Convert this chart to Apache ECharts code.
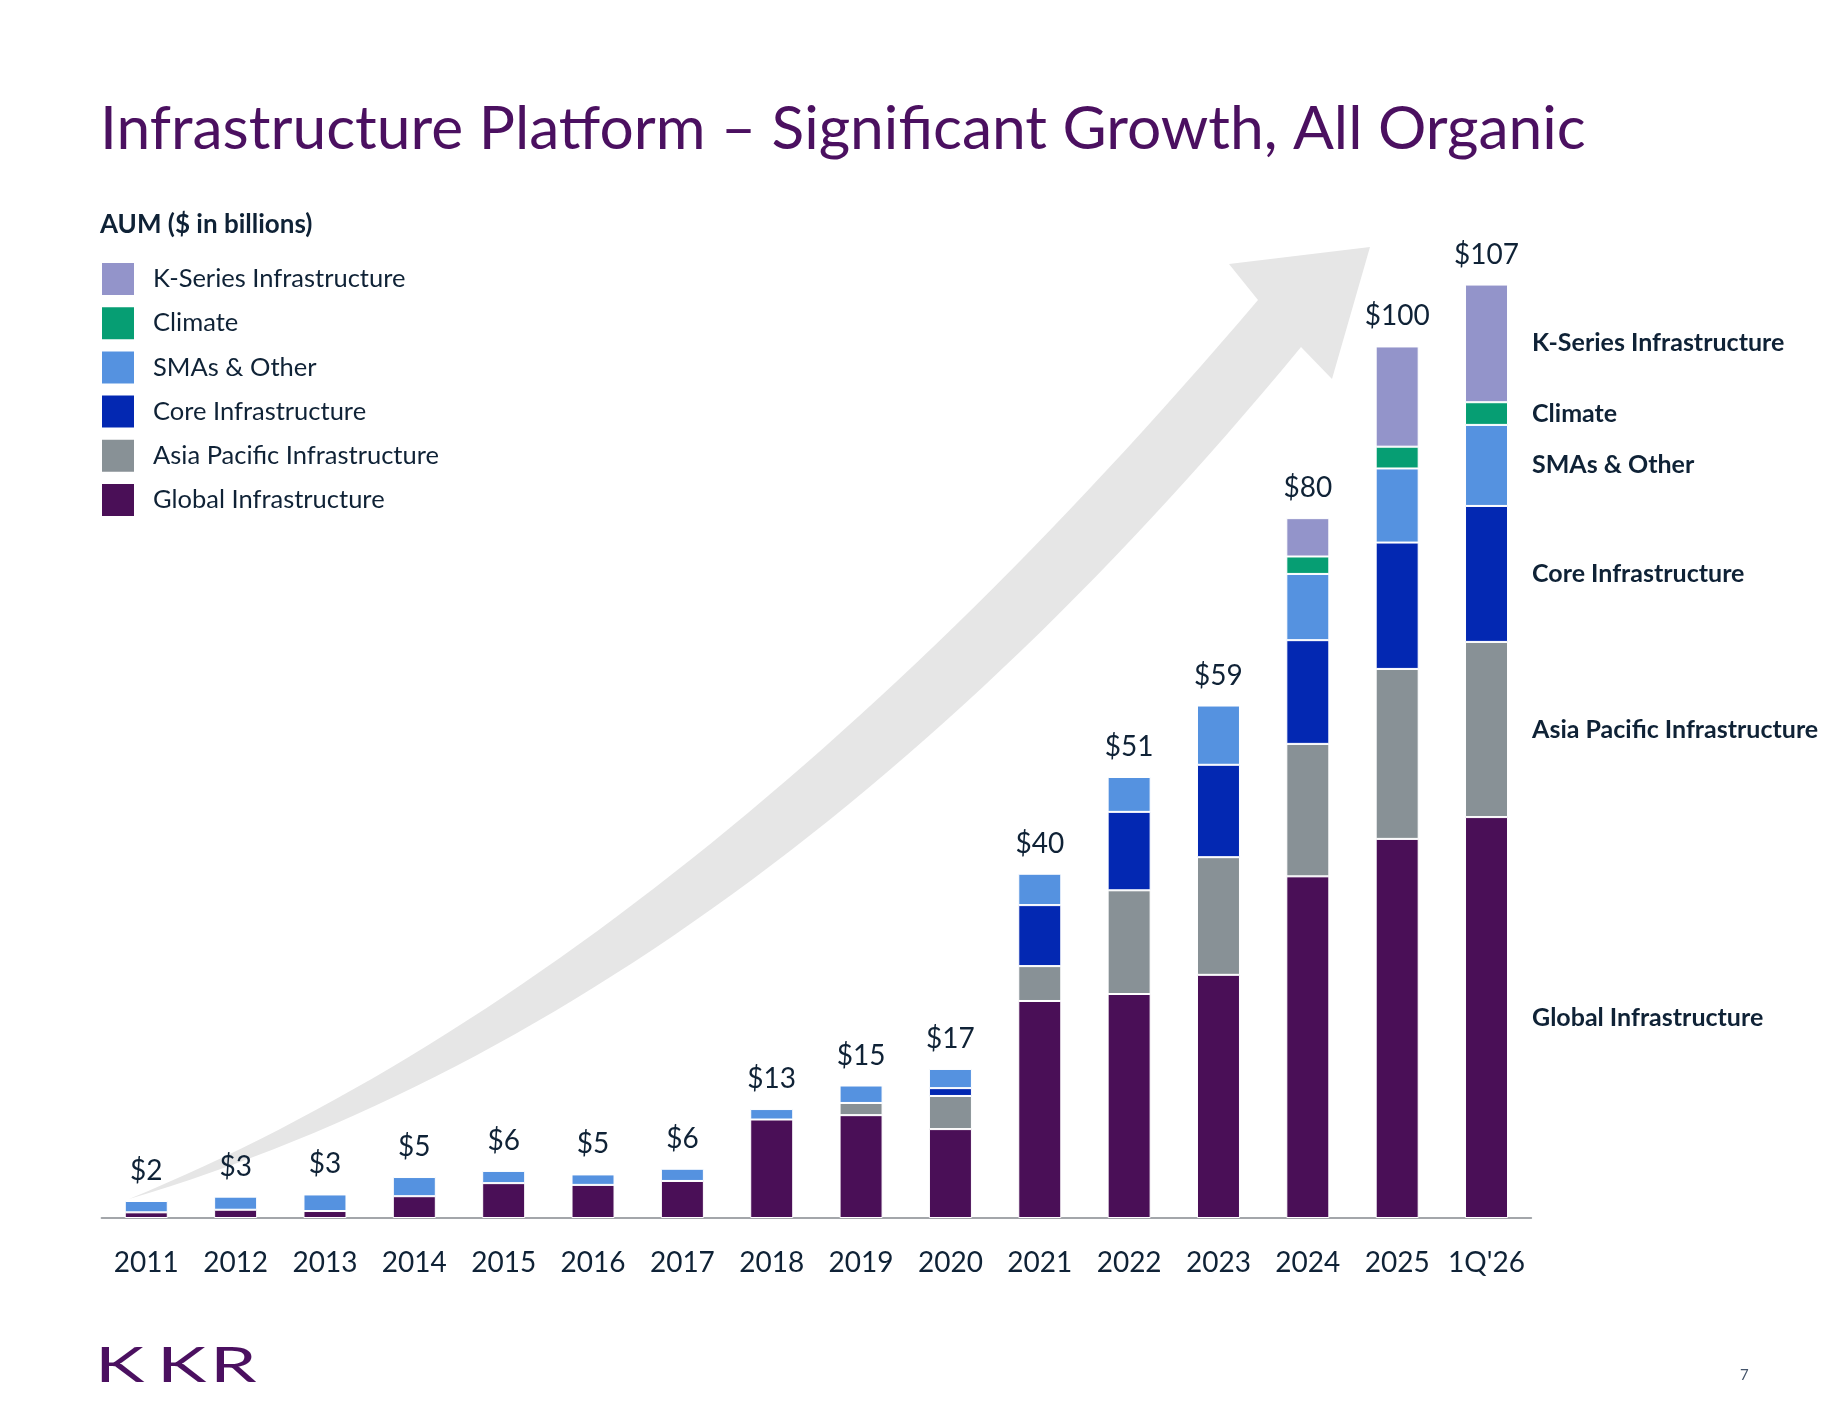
<!DOCTYPE html>
<html>
<head>
<meta charset="utf-8">
<title>Infrastructure Platform</title>
<script src="https://cdn.jsdelivr.net/npm/echarts@6/dist/echarts.min.js"></script>
<style>
  html, body { margin: 0; padding: 0; background: #fff; }
  #chart { width: 1842px; height: 1418px; }
</style>
</head>
<body>
<div id="chart"></div>
<script>
// AUM ($ in billions)
const categories = ['2011', '2012', '2013', '2014', '2015', '2016', '2017', '2018',
  '2019', '2020', '2021', '2022', '2023', '2024', '2025', "1Q'26"];
const totalLabels = [2, 3, 3, 5, 6, 5, 6, 13, 15, 17, 40, 51, 59, 80, 100, 107];

const globalInfra = [0.65, 0.95, 0.8, 2.5, 4.0, 3.8, 4.25, 11.3, 11.8, 10.2, 24.9, 25.7, 27.9, 39.2, 43.5, 46.0];
const asiaPacific = [0, 0, 0, 0, 0, 0, 0, 0, 1.4, 3.8, 4.0, 11.9, 13.5, 15.2, 19.5, 20.1];
const coreInfra = [0, 0, 0, 0, 0, 0, 0, 0, 0, 0.9, 7.0, 9.0, 10.6, 11.9, 14.5, 15.6];
const smasOther = [1.3, 1.5, 1.9, 2.2, 1.4, 1.2, 1.4, 1.2, 2.0, 2.2, 3.6, 4.0, 6.8, 7.6, 8.5, 9.3];
const climate = [0, 0, 0, 0, 0, 0, 0, 0, 0, 0, 0, 0, 0, 2.0, 2.5, 2.6];
const kSeries = [0, 0, 0, 0, 0, 0, 0, 0, 0, 0, 0, 0, 0, 4.4, 11.5, 13.5];

const seriesNames = ['Global Infrastructure', 'Asia Pacific Infrastructure', 'Core Infrastructure',
  'SMAs & Other', 'Climate', 'K-Series Infrastructure'];
const seriesValues = [globalInfra, asiaPacific, coreInfra, smasOther, climate, kSeries];
const seriesColors = ['#4A0F57', '#889196', '#0328B2', '#5592E0', '#069E73', '#9394CA'];

const FONT = 'Lato, "Open Sans", sans-serif';
const TEXT = '#0F2236';
const PURPLE = '#4B1060';

let chart = echarts.init(document.getElementById('chart'), null, { renderer: 'canvas' });

const last = categories.length - 1;
let barSeries = seriesNames.map((name, s) => ({
  name: name,
  type: 'bar',
  stack: 'aum',
  barWidth: 43,
  itemStyle: { color: seriesColors[s], borderColor: '#fff', borderWidth: 1 },
  data: seriesValues[s].map((v, i) => {
    let val = v === 0 ? '-' : v;
    if (i !== last) return val;
    // name label to the right of the last bar
    return {
      value: val,
      label: {
        show: true, position: 'right', distance: 24,
        formatter: name, fontFamily: FONT, fontSize: 25, fontWeight: 'bold', color: TEXT
      }
    };
  })
}));

// stack heights, used to place the $ totals
let stackTops = categories.map((c, i) => seriesValues.reduce((a, arr) => a + arr[i], 0));

let totalSeries = {
  name: 'total',
  type: 'line',
  data: stackTops,
  symbol: 'circle',
  symbolSize: 2,
  itemStyle: { color: 'rgba(0,0,0,0)' },
  lineStyle: { width: 0, color: 'rgba(0,0,0,0)' },
  silent: true,
  z: 5,
  label: {
    show: true, position: 'top', distance: 15,
    fontFamily: FONT, fontSize: 28, color: TEXT,
    formatter: p => '$' + totalLabels[p.dataIndex]
  }
};

// big swooping arrow behind the bars (decoration, page pixels)
function quad(p0, c, p1, n) {
  let pts = [];
  for (let k = 0; k <= n; k++) {
    let t = k / n, u = 1 - t;
    pts.push([u * u * p0[0] + 2 * u * t * c[0] + t * t * p1[0],
              u * u * p0[1] + 2 * u * t * c[1] + t * t * p1[1]]);
  }
  return pts;
}
const tail = [129, 1199];
let arrowPts = quad(tail, [690, 968], [1258, 300], 60)
  .concat([[1229, 264], [1370, 247], [1332, 379]])
  .concat(quad([1301, 347], [750, 1015], tail, 60));

function logoLetter(ch, x) {
  return {
    type: 'text', x: x, y: 1343, scaleX: 1.55,
    style: { text: ch, font: '400 48px ' + FONT, fill: PURPLE, verticalAlign: 'top' }
  };
}

let option = {
  animation: false,
  backgroundColor: '#fff',
  textStyle: { fontFamily: FONT },
  grid: { left: 101.6, right: 310.8, top: 259.3, bottom: 200 },
  legend: {
    data: seriesNames.slice().reverse(),
    orient: 'vertical',
    left: 100,
    top: 261,
    icon: 'rect',
    itemWidth: 34,
    itemHeight: 34,
    itemGap: 8.2,
    selectedMode: false,
    padding: 0,
    textStyle: { fontFamily: FONT, fontSize: 25.5, lineHeight: 34, color: TEXT, padding: [0, 0, 0, 13] }
  },
  xAxis: {
    type: 'category',
    data: categories,
    axisLine: { lineStyle: { color: '#A3A6AA', width: 2 } },
    axisTick: { show: false },
    axisLabel: { interval: 0, fontFamily: FONT, fontSize: 28, color: TEXT, margin: 31 }
  },
  yAxis: { type: 'value', min: 0, max: 110, show: false, splitLine: { show: false } },
  graphic: [
    { type: 'polygon', shape: { points: arrowPts }, style: { fill: '#E6E6E6' }, z: 0, silent: true },
    {
      type: 'text', left: 100, top: 99, z: 10,
      style: { text: 'Infrastructure Platform \u2013 Significant Growth, All Organic', font: '400 60.5px ' + FONT, fill: PURPLE }
    },
    {
      type: 'text', left: 100, top: 212, z: 10,
      style: { text: 'AUM ($ in billions)', font: 'bold 26px ' + FONT, fill: TEXT }
    },
    logoLetter('K', 95),
    logoLetter('K', 157),
    logoLetter('R', 210),
    { type: 'text', left: 1740, top: 1368, style: { text: '7', font: '15px ' + FONT, fill: '#44546A' } }
  ],
  series: barSeries.concat([totalSeries])
};

chart.setOption(option);
</script>
</body>
</html>
